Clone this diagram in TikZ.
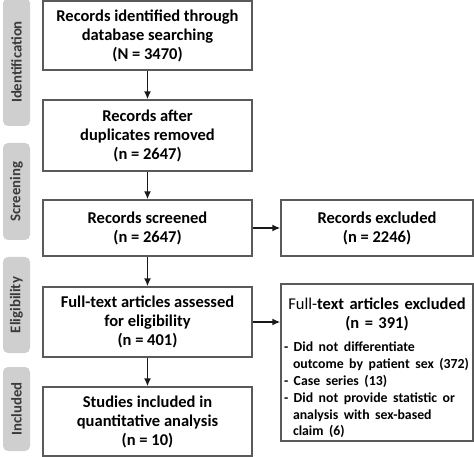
\documentclass[tikz,border=0pt]{standalone}
\usepackage{fontspec}
\setmainfont{Carlito}
\usetikzlibrary{arrows.meta}
\definecolor{boxline}{HTML}{5A5A5A}
\definecolor{phasefill}{HTML}{CFCFCF}
\definecolor{phasetext}{HTML}{3A3A3A}
\newcommand{\boxfont}{\fontsize{16.5}{19}\selectfont\bfseries}
\newcommand{\listfont}{\fontsize{13.8}{16.8}\selectfont\bfseries}
\newcommand{\subline}[1]{\mbox{\hspace*{9pt}#1}}

\begin{document}
\begin{tikzpicture}[x=1pt, y=-1pt,
    stagebox/.style={draw=boxline, line width=1.3pt, fill=white, align=center,
      inner sep=2pt, font=\boxfont, minimum width=209pt},
    phase/.style={fill=phasefill, rounded corners=5pt, rotate=90, inner sep=0pt,
      minimum height=27pt, text=phasetext, font=\fontsize{14.8}{17}\selectfont\bfseries},
    flow/.style={-{Latex[length=8pt,width=7pt]}, line width=1.6pt, black!90}]
    \useasboundingbox (0,0) rectangle (474,457);
    % phase labels
    \node[phase, minimum width=128pt] (PI) at (16.5,62) {Identification};
    \node[phase, minimum width=97pt] (PS) at (16.5,191.5) {Screening};
    \node[phase, minimum width=96pt] (PE) at (16.5,305) {Eligibility};
    \node[phase, minimum width=84pt] (PN) at (16.5,409) {Included};
    % main column
    \node[stagebox, minimum height=69pt] (ID) at (147.5,35.5)
      {Records identified through\\database searching\\(N = 3470)};
    \node[stagebox, minimum height=71pt] (DUP) at (147.5,135.5)
      {Records after\\duplicates removed\\(n = 2647)};
    \node[stagebox, minimum height=56pt] (SCR) at (147.5,228)
      {Records screened\\(n = 2647)};
    \node[stagebox, minimum height=70pt] (FT) at (147.5,322)
      {Full-text articles assessed\\for eligibility\\(n = 401)};
    \node[stagebox, minimum height=69pt] (INC) at (147.5,421.5)
      {Studies included in\\quantitative analysis\\(n = 10)};
    % exclusions
    \node[stagebox, minimum width=192pt, minimum height=153pt, text width=186pt,
      align=left, inner sep=3pt] (FTX) at (377,362.5)
      {\centering\rule{0pt}{22pt}{\mdseries Full-}text articles excluded\\(n = 391)\par
       \vspace{7pt}\raggedright\listfont
       \mbox{- Did not differentiate}\\
       \subline{outcome by patient sex (372)}\\
       \mbox{- Case series (13)}\\
       \mbox{- Did not provide statistic or}\\
       \subline{analysis with sex-based}\\
       \subline{claim (6)}\par};
    \node[stagebox, minimum width=192pt, minimum height=56pt] (EXC) at (377,228)
      {Records excluded\\(n = 2246)};
    \coordinate (FTXin) at (FTX.west |- FT.east);
    \path[flow] (ID) edge (DUP);
    \path[flow] (DUP) edge (SCR);
    \path[flow] (SCR) edge (FT);
    \path[flow] (FT) edge (INC);
    \path[flow] (SCR) edge (EXC);
    \path[flow] (FT) edge (FTXin);
  \end{tikzpicture}
\end{document}
